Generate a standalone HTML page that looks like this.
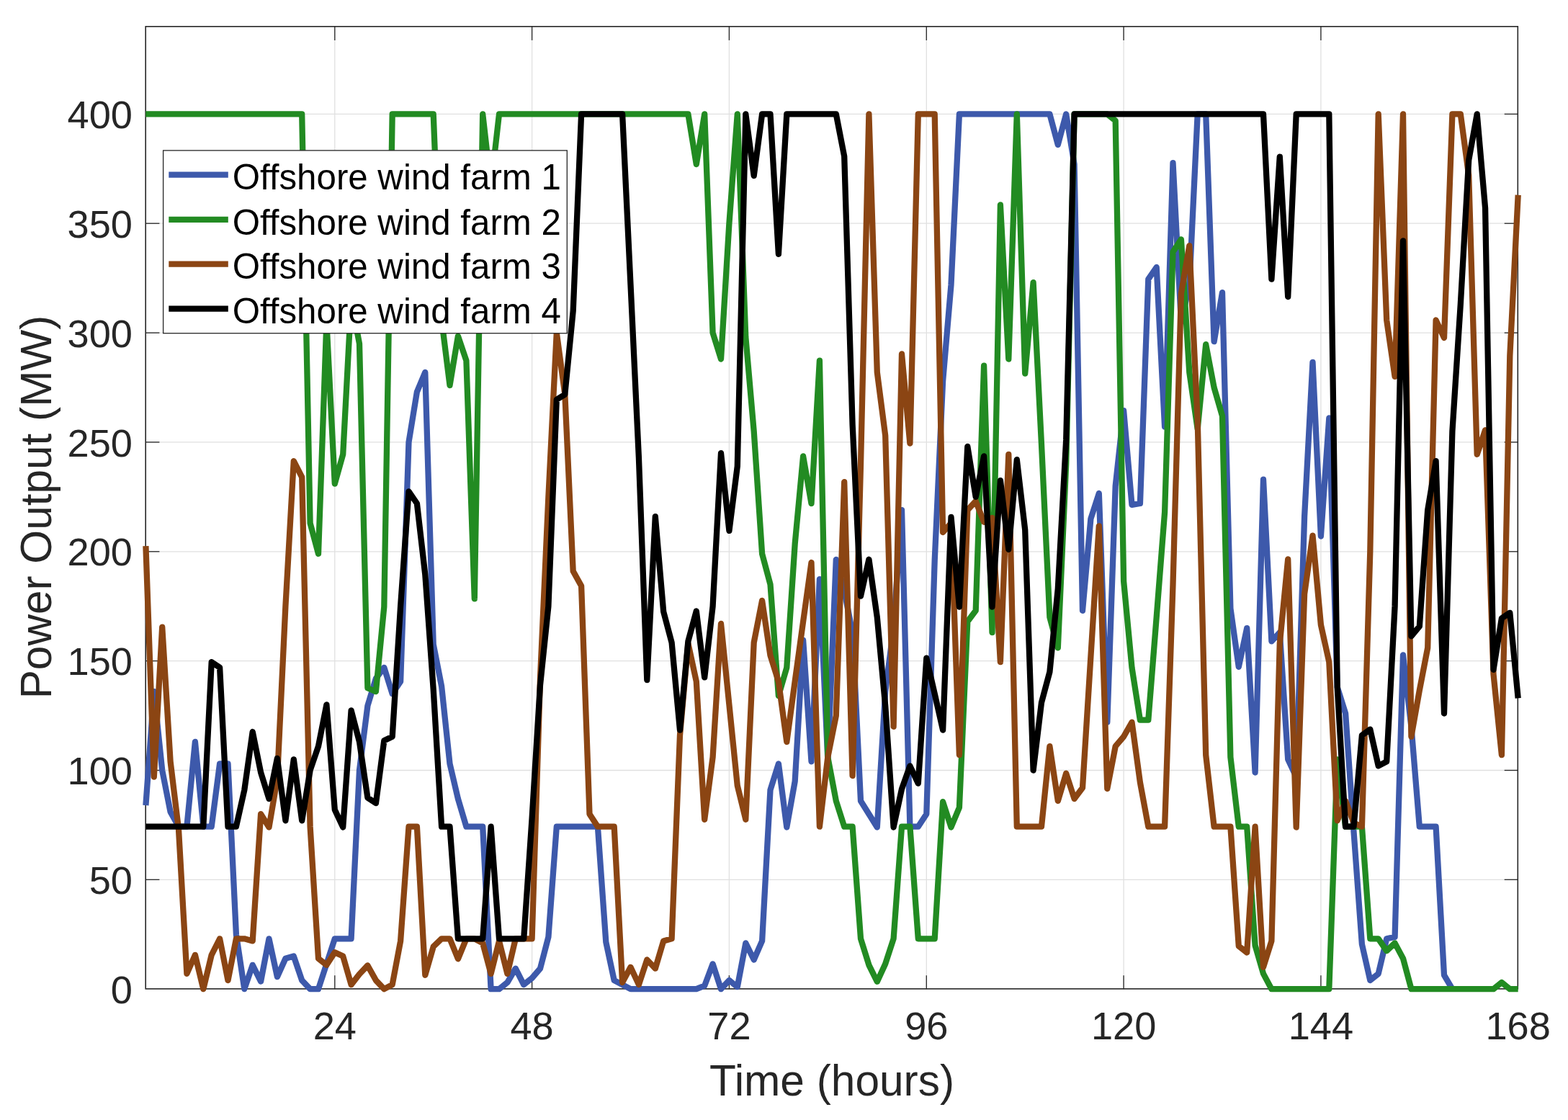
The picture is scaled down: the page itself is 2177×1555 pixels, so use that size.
<!DOCTYPE html>
<html lang="en"><head><meta charset="utf-8"><title>Offshore wind farm power output</title>
<style>html,body{margin:0;padding:0;background:#fff;}body{width:2177px;height:1555px;overflow:hidden;}svg{display:block;}text{font-family:"Liberation Sans",Arial,Helvetica,sans-serif;}</style></head><body>
<svg xmlns="http://www.w3.org/2000/svg" width="2177" height="1555" viewBox="0 0 2177 1555">
<rect x="0" y="0" width="2177" height="1555" fill="#ffffff"/>
<g stroke="#e0e0e0" stroke-width="1.3" fill="none"><line x1="464.8" y1="36.9" x2="464.8" y2="1373.2"/><line x1="738.6" y1="36.9" x2="738.6" y2="1373.2"/><line x1="1012.4" y1="36.9" x2="1012.4" y2="1373.2"/><line x1="1286.3" y1="36.9" x2="1286.3" y2="1373.2"/><line x1="1560.1" y1="36.9" x2="1560.1" y2="1373.2"/><line x1="1833.9" y1="36.9" x2="1833.9" y2="1373.2"/><line x1="202.4" y1="1221.3" x2="2107.7" y2="1221.3"/><line x1="202.4" y1="1069.5" x2="2107.7" y2="1069.5"/><line x1="202.4" y1="917.6" x2="2107.7" y2="917.6"/><line x1="202.4" y1="765.8" x2="2107.7" y2="765.8"/><line x1="202.4" y1="613.9" x2="2107.7" y2="613.9"/><line x1="202.4" y1="462.1" x2="2107.7" y2="462.1"/><line x1="202.4" y1="310.2" x2="2107.7" y2="310.2"/><line x1="202.4" y1="158.4" x2="2107.7" y2="158.4"/></g>
<rect x="202.2" y="36.8" width="1905.1" height="1336.1" fill="none" stroke="#262626" stroke-width="1.6"/>
<g stroke="#262626" stroke-width="1.3" fill="none"><line x1="464.8" y1="1373.2" x2="464.8" y2="1354.2"/><line x1="464.8" y1="36.9" x2="464.8" y2="55.9"/><line x1="738.6" y1="1373.2" x2="738.6" y2="1354.2"/><line x1="738.6" y1="36.9" x2="738.6" y2="55.9"/><line x1="1012.4" y1="1373.2" x2="1012.4" y2="1354.2"/><line x1="1012.4" y1="36.9" x2="1012.4" y2="55.9"/><line x1="1286.3" y1="1373.2" x2="1286.3" y2="1354.2"/><line x1="1286.3" y1="36.9" x2="1286.3" y2="55.9"/><line x1="1560.1" y1="1373.2" x2="1560.1" y2="1354.2"/><line x1="1560.1" y1="36.9" x2="1560.1" y2="55.9"/><line x1="1833.9" y1="1373.2" x2="1833.9" y2="1354.2"/><line x1="1833.9" y1="36.9" x2="1833.9" y2="55.9"/><line x1="202.4" y1="1221.3" x2="221.4" y2="1221.3"/><line x1="2107.7" y1="1221.3" x2="2088.7" y2="1221.3"/><line x1="202.4" y1="1069.5" x2="221.4" y2="1069.5"/><line x1="2107.7" y1="1069.5" x2="2088.7" y2="1069.5"/><line x1="202.4" y1="917.6" x2="221.4" y2="917.6"/><line x1="2107.7" y1="917.6" x2="2088.7" y2="917.6"/><line x1="202.4" y1="765.8" x2="221.4" y2="765.8"/><line x1="2107.7" y1="765.8" x2="2088.7" y2="765.8"/><line x1="202.4" y1="613.9" x2="221.4" y2="613.9"/><line x1="2107.7" y1="613.9" x2="2088.7" y2="613.9"/><line x1="202.4" y1="462.1" x2="221.4" y2="462.1"/><line x1="2107.7" y1="462.1" x2="2088.7" y2="462.1"/><line x1="202.4" y1="310.2" x2="221.4" y2="310.2"/><line x1="2107.7" y1="310.2" x2="2088.7" y2="310.2"/><line x1="202.4" y1="158.4" x2="221.4" y2="158.4"/><line x1="2107.7" y1="158.4" x2="2088.7" y2="158.4"/></g>
<polyline points="202.4,1118.1 213.8,960.2 225.2,1069.5 236.6,1127.2 248.0,1147.7 259.4,1147.7 270.9,1030.0 282.3,1147.7 293.7,1147.7 305.1,1060.4 316.5,1060.4 327.9,1297.3 339.3,1373.2 350.7,1339.8 362.1,1362.6 373.5,1303.3 384.9,1356.2 396.4,1330.7 407.8,1327.6 419.2,1361.1 430.6,1373.2 442.0,1373.2 453.4,1338.3 464.8,1303.3 476.2,1303.3 487.6,1303.3 499.0,1069.5 510.4,979.9 521.9,941.9 533.3,926.8 544.7,963.2 556.1,946.2 567.5,613.9 578.9,544.1 590.3,516.8 601.7,894.6 613.1,952.9 624.5,1060.4 635.9,1109.0 647.4,1147.7 658.8,1147.7 670.2,1147.7 681.6,1373.2 693.0,1373.2 704.4,1364.1 715.8,1344.7 727.2,1367.1 738.6,1358.0 750.0,1344.7 761.4,1300.9 772.8,1147.7 784.3,1147.7 795.7,1147.7 807.1,1147.7 818.5,1147.7 829.9,1147.7 841.3,1307.9 852.7,1361.1 864.1,1367.1 875.5,1373.2 886.9,1373.2 898.3,1373.2 909.8,1373.2 921.2,1373.2 932.6,1373.2 944.0,1373.2 955.4,1373.2 966.8,1373.2 978.2,1368.6 989.6,1338.3 1001.0,1373.2 1012.4,1361.1 1023.8,1370.2 1035.3,1309.4 1046.7,1332.5 1058.1,1306.4 1069.5,1096.8 1080.9,1060.4 1092.3,1148.5 1103.7,1084.7 1115.1,888.8 1126.5,1057.3 1137.9,804.1 1149.3,1054.3 1160.8,777.0 1172.2,820.5 1183.6,878.2 1195.0,1112.0 1206.4,1130.2 1217.8,1148.5 1229.2,960.2 1240.6,872.1 1252.0,708.1 1263.4,1147.7 1274.8,1147.7 1286.3,1130.2 1297.7,777.9 1309.1,528.9 1320.5,395.3 1331.9,158.4 1343.3,158.4 1354.7,158.4 1366.1,158.4 1377.5,158.4 1388.9,158.4 1400.3,158.4 1411.8,158.4 1423.2,158.4 1434.6,158.4 1446.0,158.4 1457.4,158.4 1468.8,200.9 1480.2,158.4 1491.6,228.2 1503.0,847.8 1514.4,720.2 1525.8,685.0 1537.3,1002.7 1548.7,674.7 1560.1,570.2 1571.5,700.8 1582.9,699.0 1594.3,387.7 1605.7,371.0 1617.1,592.7 1628.5,226.1 1639.9,446.9 1651.3,395.3 1662.7,158.4 1674.2,158.4 1685.6,474.2 1697.0,406.2 1708.4,844.8 1719.8,925.8 1731.2,872.1 1742.6,1072.5 1754.0,665.6 1765.4,890.3 1776.8,878.2 1788.2,1054.3 1799.7,1078.6 1811.1,717.2 1822.5,502.8 1833.9,744.5 1845.3,580.5 1856.7,954.1 1868.1,990.5 1879.5,1154.5 1890.9,1310.9 1902.3,1361.1 1913.7,1351.9 1925.2,1303.3 1936.6,1300.9 1948.0,909.4 1959.4,1008.8 1970.8,1147.7 1982.2,1147.7 1993.6,1147.7 2005.0,1353.8 2016.4,1373.2" fill="none" stroke="#3D59AB" stroke-width="8.3" stroke-linejoin="round" stroke-linecap="butt"/>
<polyline points="202.4,158.4 213.8,158.4 225.2,158.4 236.6,158.4 248.0,158.4 259.4,158.4 270.9,158.4 282.3,158.4 293.7,158.4 305.1,158.4 316.5,158.4 327.9,158.4 339.3,158.4 350.7,158.4 362.1,158.4 373.5,158.4 384.9,158.4 396.4,158.4 407.8,158.4 419.2,158.4 430.6,726.3 442.0,768.8 453.4,446.9 464.8,671.6 476.2,630.9 487.6,416.5 499.0,477.3 510.4,955.3 521.9,960.2 533.3,842.6 544.7,158.4 556.1,158.4 567.5,158.4 578.9,158.4 590.3,158.4 601.7,158.4 613.1,443.9 624.5,535.0 635.9,466.6 647.4,500.7 658.8,831.4 670.2,158.4 681.6,258.6 693.0,158.4 704.4,158.4 715.8,158.4 727.2,158.4 738.6,158.4 750.0,158.4 761.4,158.4 772.8,158.4 784.3,158.4 795.7,158.4 807.1,158.4 818.5,158.4 829.9,158.4 841.3,158.4 852.7,158.4 864.1,158.4 875.5,158.4 886.9,158.4 898.3,158.4 909.8,158.4 921.2,158.4 932.6,158.4 944.0,158.4 955.4,158.4 966.8,228.2 978.2,158.4 989.6,462.1 1001.0,498.5 1012.4,310.2 1023.8,158.4 1035.3,468.2 1046.7,598.8 1058.1,768.8 1069.5,811.3 1080.9,966.2 1092.3,926.8 1103.7,754.9 1115.1,633.4 1126.5,699.0 1137.9,500.7 1149.3,1051.3 1160.8,1112.0 1172.2,1147.7 1183.6,1147.7 1195.0,1303.3 1206.4,1339.8 1217.8,1362.9 1229.2,1338.3 1240.6,1303.3 1252.0,1147.7 1263.4,1147.7 1274.8,1303.3 1286.3,1303.3 1297.7,1303.3 1309.1,1113.2 1320.5,1148.5 1331.9,1121.1 1343.3,863.0 1354.7,847.8 1366.1,507.6 1377.5,878.2 1388.9,284.4 1400.3,498.5 1411.8,158.4 1423.2,518.6 1434.6,392.2 1446.0,617.0 1457.4,856.9 1468.8,899.4 1480.2,644.3 1491.6,158.4 1503.0,158.4 1514.4,158.4 1525.8,158.4 1537.3,158.4 1548.7,167.5 1560.1,806.8 1571.5,926.8 1582.9,999.6 1594.3,999.6 1605.7,856.9 1617.1,711.1 1628.5,349.7 1639.9,332.4 1651.3,516.8 1662.7,595.7 1674.2,478.2 1685.6,538.0 1697.0,577.5 1708.4,1051.3 1719.8,1147.7 1731.2,1147.7 1742.6,1312.5 1754.0,1351.9 1765.4,1373.2 1776.8,1373.2 1788.2,1373.2 1799.7,1373.2 1811.1,1373.2 1822.5,1373.2 1833.9,1373.2 1845.3,1373.2 1856.7,1054.3 1868.1,1147.7 1879.5,1147.7 1890.9,1147.7 1902.3,1303.3 1913.7,1303.3 1925.2,1320.1 1936.6,1309.4 1948.0,1330.7 1959.4,1373.2 1970.8,1373.2 1982.2,1373.2 1993.6,1373.2 2005.0,1373.2 2016.4,1373.2 2027.8,1373.2 2039.2,1373.2 2050.7,1373.2 2062.1,1373.2 2073.5,1373.2 2084.9,1364.1 2096.3,1373.2 2107.7,1373.2" fill="none" stroke="#228B22" stroke-width="8.3" stroke-linejoin="round" stroke-linecap="butt"/>
<polyline points="202.4,758.2 213.8,1078.6 225.2,870.6 236.6,1057.3 248.0,1151.5 259.4,1351.9 270.9,1325.8 282.3,1373.2 293.7,1325.8 305.1,1303.3 316.5,1361.1 327.9,1303.3 339.3,1303.3 350.7,1306.4 362.1,1130.2 373.5,1148.5 384.9,1081.6 396.4,841.7 407.8,640.1 419.2,662.5 430.6,1147.7 442.0,1330.7 453.4,1339.8 464.8,1322.2 476.2,1327.6 487.6,1367.1 499.0,1352.5 510.4,1340.4 521.9,1361.1 533.3,1373.2 544.7,1367.1 556.1,1306.4 567.5,1147.7 578.9,1147.7 590.3,1353.8 601.7,1314.3 613.1,1303.3 624.5,1303.3 635.9,1331.3 647.4,1303.3 658.8,1303.3 670.2,1309.4 681.6,1351.9 693.0,1306.4 704.4,1351.9 715.8,1303.3 727.2,1303.3 738.6,1303.3 750.0,941.9 761.4,689.9 772.8,462.1 784.3,547.1 795.7,793.1 807.1,813.5 818.5,1130.2 829.9,1147.7 841.3,1147.7 852.7,1147.7 864.1,1364.1 875.5,1342.8 886.9,1367.1 898.3,1332.5 909.8,1344.7 921.2,1306.4 932.6,1303.3 944.0,1020.9 955.4,893.3 966.8,946.2 978.2,1137.8 989.6,1051.3 1001.0,866.0 1012.4,978.4 1023.8,1090.8 1035.3,1137.8 1046.7,892.1 1058.1,833.8 1069.5,910.1 1080.9,946.2 1092.3,1030.0 1103.7,945.9 1115.1,863.0 1126.5,781.0 1137.9,1147.7 1149.3,1051.3 1160.8,993.6 1172.2,669.2 1183.6,1077.1 1195.0,644.3 1206.4,158.4 1217.8,516.8 1229.2,604.8 1240.6,1008.8 1252.0,491.5 1263.4,615.5 1274.8,158.4 1286.3,158.4 1297.7,158.4 1309.1,739.1 1320.5,726.3 1331.9,1048.2 1343.3,708.1 1354.7,695.9 1366.1,724.8 1377.5,719.0 1388.9,919.2 1400.3,630.9 1411.8,1147.7 1423.2,1147.7 1434.6,1147.7 1446.0,1147.7 1457.4,1036.1 1468.8,1112.0 1480.2,1073.7 1491.6,1109.0 1503.0,1093.8 1514.4,911.6 1525.8,730.3 1537.3,1095.0 1548.7,1036.1 1560.1,1022.7 1571.5,1002.7 1582.9,1086.2 1594.3,1147.7 1605.7,1147.7 1617.1,1147.7 1628.5,811.3 1639.9,407.4 1651.3,341.2 1662.7,583.6 1674.2,1048.2 1685.6,1147.7 1697.0,1147.7 1708.4,1147.7 1719.8,1313.4 1731.2,1322.5 1742.6,1147.7 1754.0,1342.8 1765.4,1306.4 1776.8,893.3 1788.2,776.4 1799.7,1148.5 1811.1,824.7 1822.5,743.6 1833.9,867.5 1845.3,919.2 1856.7,1139.3 1868.1,1112.0 1879.5,1142.4 1890.9,1147.7 1902.3,765.8 1913.7,158.4 1925.2,444.5 1936.6,522.8 1948.0,158.4 1959.4,1022.7 1970.8,958.6 1982.2,899.4 1993.6,444.5 2005.0,469.1 2016.4,158.4 2027.8,158.4 2039.2,243.4 2050.7,630.9 2062.1,597.2 2073.5,935.9 2084.9,1048.2 2096.3,494.0 2107.7,270.8" fill="none" stroke="#8B4513" stroke-width="8.3" stroke-linejoin="round" stroke-linecap="butt"/>
<polyline points="202.4,1147.7 213.8,1147.7 225.2,1147.7 236.6,1147.7 248.0,1147.7 259.4,1147.7 270.9,1147.7 282.3,1147.7 293.7,919.2 305.1,926.8 316.5,1147.7 327.9,1147.7 339.3,1096.8 350.7,1016.0 362.1,1072.5 373.5,1109.0 384.9,1052.8 396.4,1139.3 407.8,1054.3 419.2,1139.3 430.6,1069.5 442.0,1036.1 453.4,978.4 464.8,1124.2 476.2,1148.5 487.6,986.3 499.0,1030.0 510.4,1107.5 521.9,1115.1 533.3,1028.2 544.7,1022.7 556.1,841.7 567.5,682.3 578.9,699.0 590.3,797.7 601.7,957.1 613.1,1147.7 624.5,1147.7 635.9,1303.3 647.4,1303.3 658.8,1303.3 670.2,1303.3 681.6,1147.7 693.0,1303.3 704.4,1303.3 715.8,1303.3 727.2,1303.3 738.6,1136.3 750.0,951.1 761.4,841.7 772.8,554.7 784.3,547.7 795.7,431.7 807.1,158.4 818.5,158.4 829.9,158.4 841.3,158.4 852.7,158.4 864.1,158.4 875.5,395.3 886.9,635.2 898.3,944.1 909.8,717.2 921.2,849.3 932.6,892.1 944.0,1013.6 955.4,890.3 966.8,848.4 978.2,940.4 989.6,841.7 1001.0,629.1 1012.4,736.9 1023.8,647.3 1035.3,158.4 1046.7,244.0 1058.1,158.4 1069.5,158.4 1080.9,352.8 1092.3,158.4 1103.7,158.4 1115.1,158.4 1126.5,158.4 1137.9,158.4 1149.3,158.4 1160.8,158.4 1172.2,217.0 1183.6,589.6 1195.0,827.7 1206.4,776.7 1217.8,856.9 1229.2,979.9 1240.6,1148.5 1252.0,1095.3 1263.4,1063.4 1274.8,1087.7 1286.3,913.7 1297.7,963.2 1309.1,1013.6 1320.5,717.8 1331.9,842.6 1343.3,620.0 1354.7,689.9 1366.1,633.4 1377.5,842.6 1388.9,667.1 1400.3,762.8 1411.8,638.2 1423.2,735.4 1434.6,1069.5 1446.0,975.3 1457.4,932.8 1468.8,817.4 1480.2,610.9 1491.6,158.4 1503.0,158.4 1514.4,158.4 1525.8,158.4 1537.3,158.4 1548.7,158.4 1560.1,158.4 1571.5,158.4 1582.9,158.4 1594.3,158.4 1605.7,158.4 1617.1,158.4 1628.5,158.4 1639.9,158.4 1651.3,158.4 1662.7,158.4 1674.2,158.4 1685.6,158.4 1697.0,158.4 1708.4,158.4 1719.8,158.4 1731.2,158.4 1742.6,158.4 1754.0,158.4 1765.4,387.7 1776.8,217.6 1788.2,412.0 1799.7,158.4 1811.1,158.4 1822.5,158.4 1833.9,158.4 1845.3,158.4 1856.7,954.1 1868.1,1147.7 1879.5,1147.7 1890.9,1020.9 1902.3,1012.7 1913.7,1063.4 1925.2,1057.3 1936.6,841.7 1948.0,334.5 1959.4,883.3 1970.8,869.7 1982.2,708.1 1993.6,640.1 2005.0,990.5 2016.4,598.8 2027.8,422.6 2039.2,222.2 2050.7,158.4 2062.1,289.0 2073.5,929.8 2084.9,858.4 2096.3,850.8 2107.7,969.3" fill="none" stroke="#000000" stroke-width="8.3" stroke-linejoin="round" stroke-linecap="butt"/>
<g fill="#262626" font-size="54.2px">
<text x="464.8" y="1443.2" text-anchor="middle">24</text>
<text x="738.6" y="1443.2" text-anchor="middle">48</text>
<text x="1012.4" y="1443.2" text-anchor="middle">72</text>
<text x="1286.3" y="1443.2" text-anchor="middle">96</text>
<text x="1560.1" y="1443.2" text-anchor="middle">120</text>
<text x="1833.9" y="1443.2" text-anchor="middle">144</text>
<text x="2107.7" y="1443.2" text-anchor="middle">168</text>
<text x="184" y="1392.8" text-anchor="end">0</text>
<text x="184" y="1240.9" text-anchor="end">50</text>
<text x="184" y="1089.1" text-anchor="end">100</text>
<text x="184" y="937.2" text-anchor="end">150</text>
<text x="184" y="785.4" text-anchor="end">200</text>
<text x="184" y="633.5" text-anchor="end">250</text>
<text x="184" y="481.7" text-anchor="end">300</text>
<text x="184" y="329.8" text-anchor="end">350</text>
<text x="184" y="178.0" text-anchor="end">400</text>
</g>
<text x="1155" y="1520.5" text-anchor="middle" font-size="60.4px" fill="#262626">Time (hours)</text>
<text transform="translate(71.2,704) rotate(-90)" text-anchor="middle" font-size="60.3px" fill="#262626">Power Output (MW)</text>
<rect x="226.6" y="208.9" width="560.7" height="253.8" fill="#ffffff" stroke="#262626" stroke-width="1.3"/>
<line x1="234.3" y1="242.7" x2="316.8" y2="242.7" stroke="#3D59AB" stroke-width="8.3"/>
<text x="322.7" y="263.4" font-size="49.25px" fill="#000000">Offshore wind farm 1</text>
<line x1="234.3" y1="304.8" x2="316.8" y2="304.8" stroke="#228B22" stroke-width="8.3"/>
<text x="322.7" y="325.5" font-size="49.25px" fill="#000000">Offshore wind farm 2</text>
<line x1="234.3" y1="366.7" x2="316.8" y2="366.7" stroke="#8B4513" stroke-width="8.3"/>
<text x="322.7" y="387.4" font-size="49.25px" fill="#000000">Offshore wind farm 3</text>
<line x1="234.3" y1="428.7" x2="316.8" y2="428.7" stroke="#000000" stroke-width="8.3"/>
<text x="322.7" y="449.4" font-size="49.25px" fill="#000000">Offshore wind farm 4</text>
</svg></body></html>
